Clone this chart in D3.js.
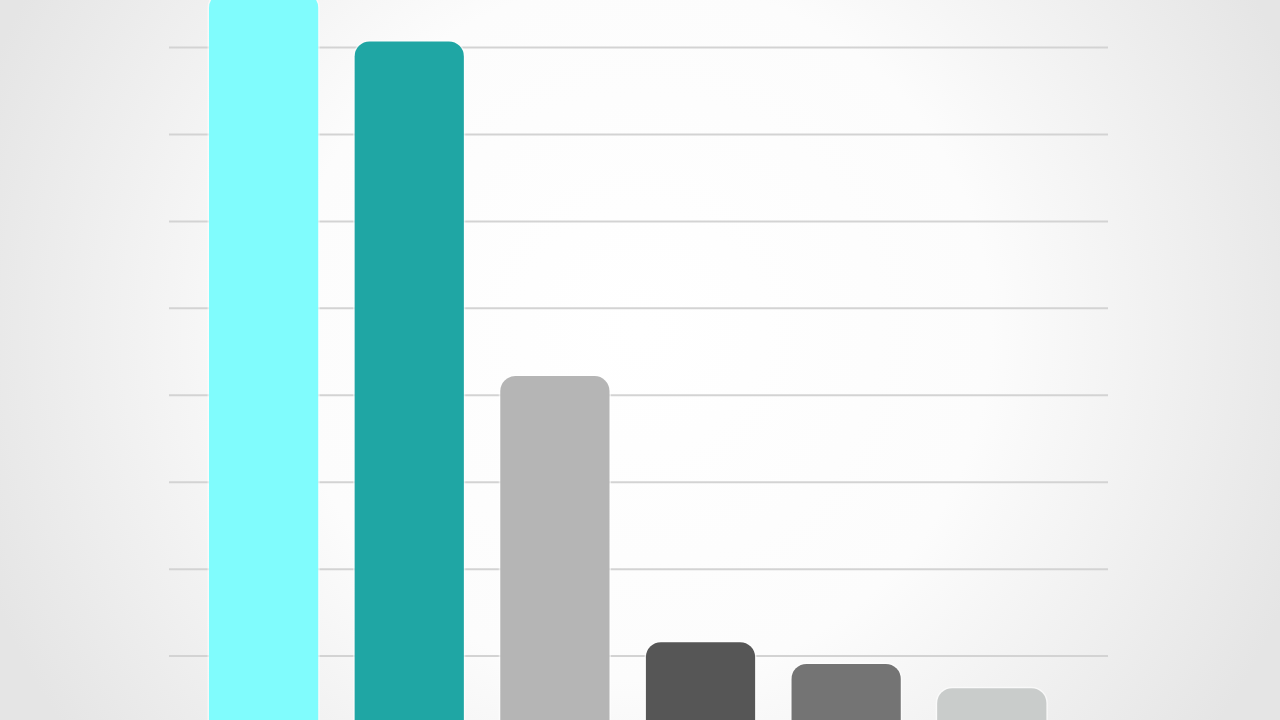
<!DOCTYPE html>
<html>
<head>
<meta charset="utf-8">
<script src="https://cdn.jsdelivr.net/npm/d3@7"></script>
<style>
  html, body { margin: 0; padding: 0; overflow: hidden; background: #f2f2f2; }
</style>
</head>
<body>
<script>
// chart data
var categories = ["A", "B", "C", "D", "E", "F"];
var values = [8.63, 8.07, 4.22, 1.16, 0.91, 0.63];
var barColors = ["#80fcfd", "#1fa6a4", "#b5b5b5", "#565656", "#747474", "#c9cccb"];
var gridTicks = [1, 2, 3, 4, 5, 6, 7, 8];

var width = 1280, height = 720;

var svg = d3.select("body").append("svg")
    .attr("width", width)
    .attr("height", height);

//Soft radial background, greyer toward the sides
var grad = svg.append("defs").append("radialGradient")
    .attr("id", "bg")
    .attr("gradientUnits", "userSpaceOnUse")
    .attr("cx", 640).attr("cy", 330).attr("r", 700);
grad.append("stop").attr("offset", "0%").attr("stop-color", "#ffffff");
grad.append("stop").attr("offset", "50%").attr("stop-color", "#fcfcfc");
grad.append("stop").attr("offset", "100%").attr("stop-color", "#e5e5e5");

svg.append("rect")
    .attr("width", width)
    .attr("height", height)
    .attr("fill", "url(#bg)");

var x = d3.scaleBand()
    .domain(categories)
    .range([190.8, 1064.6])
    .paddingInner(0.25)
    .paddingOuter(0.125);

var y = d3.scaleLinear()
    .domain([0, 8])
    .range([743, 47.5]);

//Grid lines
svg.append("g")
    .selectAll("line")
    .data(gridTicks)
    .join("line")
    .attr("x1", 169)
    .attr("x2", 1108)
    .attr("y1", function(d) { return y(d); })
    .attr("y2", function(d) { return y(d); })
    .attr("stroke", "#d3d3d3")
    .attr("stroke-width", 2);

//Bars with rounded tops (bottom runs off the page)
svg.append("g")
    .selectAll("rect")
    .data(values)
    .join("rect")
    .attr("x", function(d, i) { return x(categories[i]); })
    .attr("y", function(d) { return y(d); })
    .attr("width", x.bandwidth())
    .attr("height", function(d) { return y(0) - y(d) + 30; })
    .attr("rx", 15)
    .attr("ry", 15)
    .attr("fill", function(d, i) { return barColors[i]; })
    .attr("stroke", "#ffffff")
    .attr("stroke-opacity", 0.55)
    .attr("stroke-width", 3)
    .attr("paint-order", "stroke");
</script>
</body>
</html>
